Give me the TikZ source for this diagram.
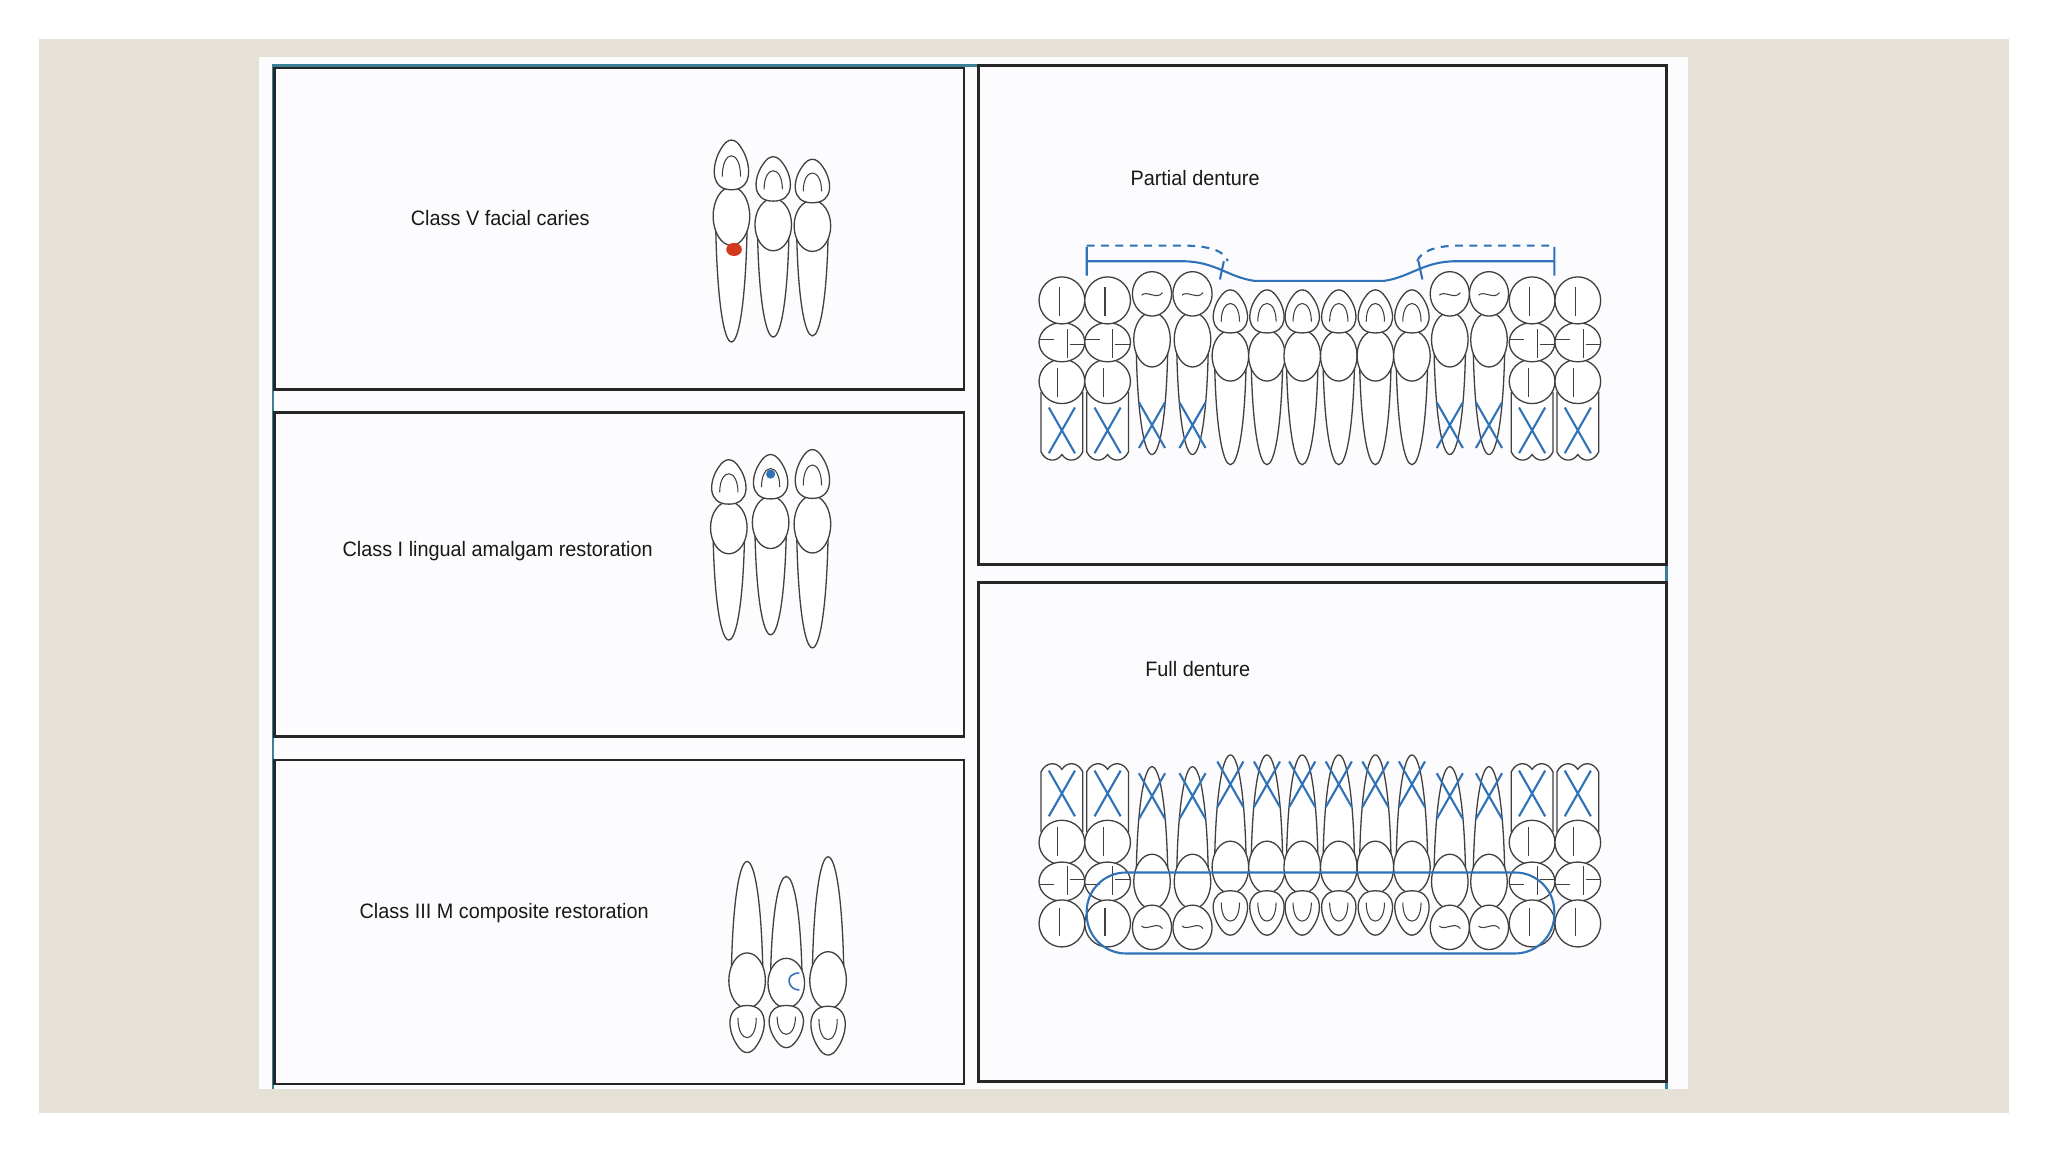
\documentclass[tikz,border=0pt]{standalone}
\usepackage{fontspec}
\setmainfont{Liberation Sans}
\definecolor{beige}{HTML}{E5E1D6}
\definecolor{teal}{HTML}{3C7F98}
\definecolor{tblue}{HTML}{2F72B8}
\definecolor{cred}{HTML}{D23A1E}
\tikzset{
 tl/.style={draw=black!75,line width=1pt,fill=white},
 xb/.style={draw=tblue,line width=1.6pt},
 box/.style={draw=black!85,line width=2pt},
 lab/.style={font=\fontsize{16}{18}\selectfont,text=black!90,xscale=0.95},
 tooth/.pic={
  \draw[tl] (-12,62) .. controls (-11,110) and (-6,140) .. (0,140) .. controls (6,140) and (11,110) .. (12,62);
  \draw[tl] (0,52) ellipse (14 and 21);
  \draw[tl] (0,17) ellipse (15 and 17);
  \draw[draw=black!75,line width=0.8pt] (-8,18) .. controls (-4,14) and (4,22) .. (8,16);
 },
 incisor/.pic={
  \draw[tl] (-12,62) .. controls (-11,110) and (-6,140) .. (0,140) .. controls (6,140) and (11,110) .. (12,62);
  \draw[tl] (0,54) ellipse (14 and 20);
  \draw[tl] (0,36) .. controls (-17,36) and (-15,18) .. (-8,8) .. controls (-3,0) and (3,0) .. (8,8) .. controls (15,18) and (17,36) .. (0,36);
  \draw[draw=black!75,line width=0.8pt] (-7,27) .. controls (-7,8) and (7,8) .. (7,27);
 },
 molar/.pic={
  \draw[tl] (-16,88) -- (-16,134) .. controls (-12,142) and (-4,142) .. (0,136) .. controls (4,142) and (12,142) .. (16,134) -- (16,88);
  \draw[tl] (0,80) ellipse (17.5 and 17);
  \draw[tl] (0,50) ellipse (17.5 and 15);
  \draw[tl] (0,18) ellipse (17.5 and 18);
  \draw[draw=black!75,line width=0.8pt] (-2,8) -- (-2,30) (4,40) -- (4,62) (-3,70) -- (-3,92) (-17,48) -- (-6,48) (6,52) -- (17,52);
 },
 xmark/.pic={
  \draw[xb] (-10,100) -- (10,135) (10,100) -- (-10,135);
 }
}
\begin{document}
\begin{tikzpicture}[x=1pt,y=-1pt]
\useasboundingbox (0,0) rectangle (1568,882);
\fill[white] (0,0) rectangle (1568,882);
\fill[beige] (30,30) rectangle (1538,852);
\fill[white!99!blue] (198,44) rectangle (1292,834);
% frame
\draw[teal,line width=2pt] (209,834) -- (209,50) -- (1276,50) -- (1276,834);
% boxes
\draw[box] (210,52) rectangle (738,298);
\draw[box] (210,316) rectangle (738,564);
\draw[box] (210,582) rectangle (738,830);
\draw[box] (749,50) rectangle (1276,432);
\draw[box] (749,446) rectangle (1276,828);
% labels
\node[lab] (l1) at (383,167) {Class V facial caries};
\node[lab] (l2) at (381,422) {Class I lingual amalgam restoration};
\node[lab] (l3) at (386,699) {Class III M composite restoration};
\node[lab] (l4) at (915,136) {Partial denture};
\node[lab] (l5) at (917,512) {Full denture};
% Class V teeth
\pic[yscale=1.12] at (560,105) {incisor};
\pic[yscale=1.0] at (592,118) {incisor};
\pic[yscale=0.98] at (622,120) {incisor};
\fill[cred] (562,191) ellipse (6 and 5);
% Class I teeth
\pic[yscale=1.0] at (558,350) {incisor};
\pic[yscale=1.0] at (590,346) {incisor};
\pic[yscale=1.1] at (622,342) {incisor};
\fill[tblue] (590,363) circle (3.5);
% Class III teeth (flipped)
\pic[yscale=-1.06] at (572,808) {incisor};
\pic[yscale=-0.95] at (602,804) {incisor};
\pic[yscale=-1.1] at (634,810) {incisor};
\draw[tblue,line width=1.2pt] (612,745) .. controls (600,745) and (603,758) .. (612,758);
% Partial denture
\foreach \x in {813,848,1173,1208} {\pic at (\x,212) {molar}; \pic at (\x,212) {xmark};}
\foreach \x in {882,913,1110,1140} {\pic at (\x,208) {tooth}; \pic at (\x,208) {xmark};}
\foreach \x in {942,970,997,1025,1053,1081} {\pic[yscale=0.97] at (\x,220) {incisor};}
\draw[tblue,line width=1.6pt] (832,200) -- (905,200) .. controls (930,200) and (940,212) .. (960,215) -- (1060,215) .. controls (1080,212) and (1090,200) .. (1115,200) -- (1190,200);
\draw[tblue,line width=1.6pt] (832,189) -- (832,211) (1190,189) -- (1190,211) (937,200) -- (934,214) (1086,200) -- (1089,214);
\draw[tblue,line width=1.6pt,dash pattern=on 6pt off 5pt] (832,188) -- (905,188) .. controls (925,188) and (938,192) .. (940,200);
\draw[tblue,line width=1.6pt,dash pattern=on 6pt off 5pt] (1085,200) .. controls (1088,192) and (1100,188) .. (1118,188) -- (1190,188);
% Full denture
\foreach \x in {813,848,1173,1208} {\pic[yscale=-1] at (\x,725) {molar}; \pic[yscale=-1] at (\x,725) {xmark};}
\foreach \x in {882,913,1110,1140} {\pic[yscale=-1] at (\x,727) {tooth}; \pic[yscale=-1] at (\x,727) {xmark};}
\foreach \x in {942,970,997,1025,1053,1081} {\pic[yscale=-1] at (\x,718) {incisor}; \pic[yscale=-1] at (\x,718) {xmark};}
\draw[tblue,line width=1.6pt,rounded corners=30pt] (832,668) rectangle (1190,730);
\end{tikzpicture}
\end{document}
